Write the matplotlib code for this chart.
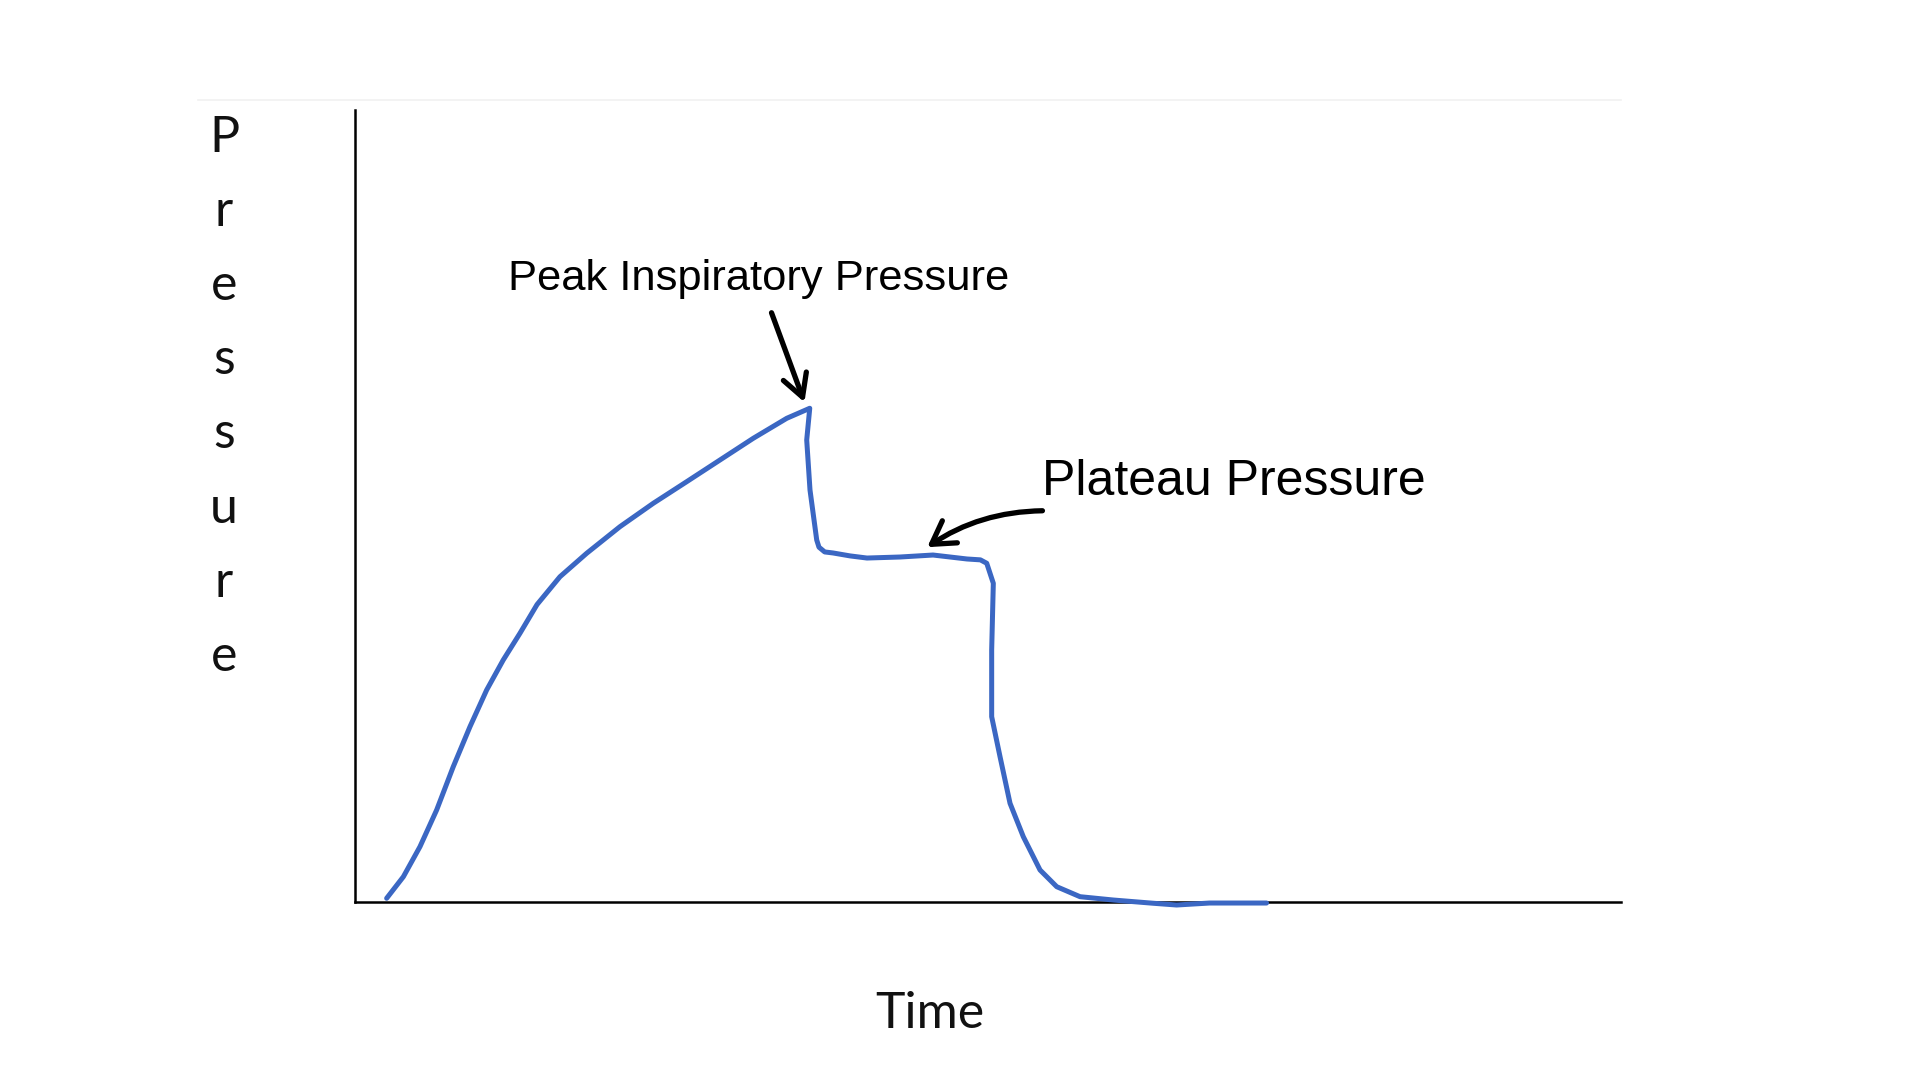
import numpy as np
import matplotlib.pyplot as plt
from matplotlib.lines import Line2D

# Pressure-time trace (arbitrary units, axes run 0-100)
# rise to peak
time = [2.50, 3.82, 5.13, 6.45, 7.76, 9.08, 10.40, 11.71, 13.03, 14.38, 16.19, 18.30,
        20.93, 23.56, 26.20, 28.83, 31.46, 34.10, 35.92,
        # drop to plateau + plateau
        35.68, 35.94, 36.47, 36.65, 37.1, 37.76, 39.1, 40.44, 43.05, 45.66, 48.34, 49.4,
        # release back to baseline
        49.90, 50.42, 50.29, 50.29, 50.95, 51.74, 52.79, 54.11, 55.43, 57.27, 59.90,
        63.06, 64.90, 67.5, 72.0]
pressure = [0.47, 3.19, 6.98, 11.62, 17.08, 22.13, 26.77, 30.56, 33.93, 37.56, 41.07, 44.03,
            47.39, 50.34, 53.07, 55.81, 58.55, 61.07, 62.34,
            58.33, 52.02, 45.71, 44.8, 44.2, 44.07, 43.7, 43.43, 43.56, 43.81, 43.31, 43.2,
            42.77, 40.24, 31.82, 23.40, 18.35, 12.46, 8.24, 4.04, 1.93, 0.67, 0.25,
            -0.16, -0.38, -0.13, -0.13]

# annotation labels and the points they mark
labels = ['Peak Inspiratory Pressure', 'Plateau Pressure']
label_points = [(35.5, 63.1), (45.2, 44.8)]
label_tails = [(32.9, 74.4), (54.3, 49.4)]

fig = plt.figure(figsize=(19.2, 10.8), dpi=100)
fig.patch.set_facecolor('white')

# faint line along the top of the image
fig.add_artist(Line2D([198 / 1920, 1621 / 1920], [1 - 100 / 1080, 1 - 100 / 1080],
                      color='#f1f1f1', lw=1.2))

ax = fig.add_axes([355 / 1920, 1 - 902 / 1080, (1621 - 355) / 1920, (902 - 110) / 1080])
ax.set_xlim(0, 100)
ax.set_ylim(0, 100)

ax.plot(time, pressure, color='#3b67c3', lw=3.6, solid_capstyle='round',
        solid_joinstyle='round', clip_on=False, zorder=3)

# only the left and bottom axis lines, no ticks
for side in ['top', 'right']:
    ax.spines[side].set_visible(False)
for side in ['left', 'bottom']:
    ax.spines[side].set_linewidth(1.8)
    ax.spines[side].set_color('black')
ax.set_xticks([])
ax.set_yticks([])
ax.patch.set_alpha(0)

# peak arrow (straight) and plateau arrow (slightly bowed)
ax.annotate('', xy=label_points[0], xytext=label_tails[0],
            arrowprops=dict(arrowstyle='->,head_length=1.0,head_width=0.55', lw=3.8,
                            color='black', mutation_scale=16, shrinkA=0, shrinkB=0,
                            capstyle='round'))
ax.annotate('', xy=label_points[1], xytext=label_tails[1],
            arrowprops=dict(arrowstyle='->,head_length=1.0,head_width=0.6', lw=3.8,
                            color='black', mutation_scale=16, shrinkA=0, shrinkB=0,
                            connectionstyle='arc3,rad=0.15', capstyle='round'))

ax.text(31.9, 77.3, labels[0], ha='center', va='baseline', fontsize=31.3,
        family='Liberation Sans', color='black')
ax.text(54.3, 51.4, labels[1], ha='left', va='baseline', fontsize=36,
        family='Liberation Sans', color='black')

# axis titles: Time below, Pressure written letter by letter down the left side
fig.text(930 / 1920, 1 - 1028 / 1080, 'Time', ha='center', va='baseline', fontsize=36,
         family='Lato', color='#111111')
fig.text(224 / 1920, 1 - 115 / 1080, '\n'.join('Pressure'), ha='center', va='top',
         ma='center', fontsize=36, linespacing=1.76, family='Lato', color='#111111')

plt.savefig('out.png', dpi=100, facecolor='white')
